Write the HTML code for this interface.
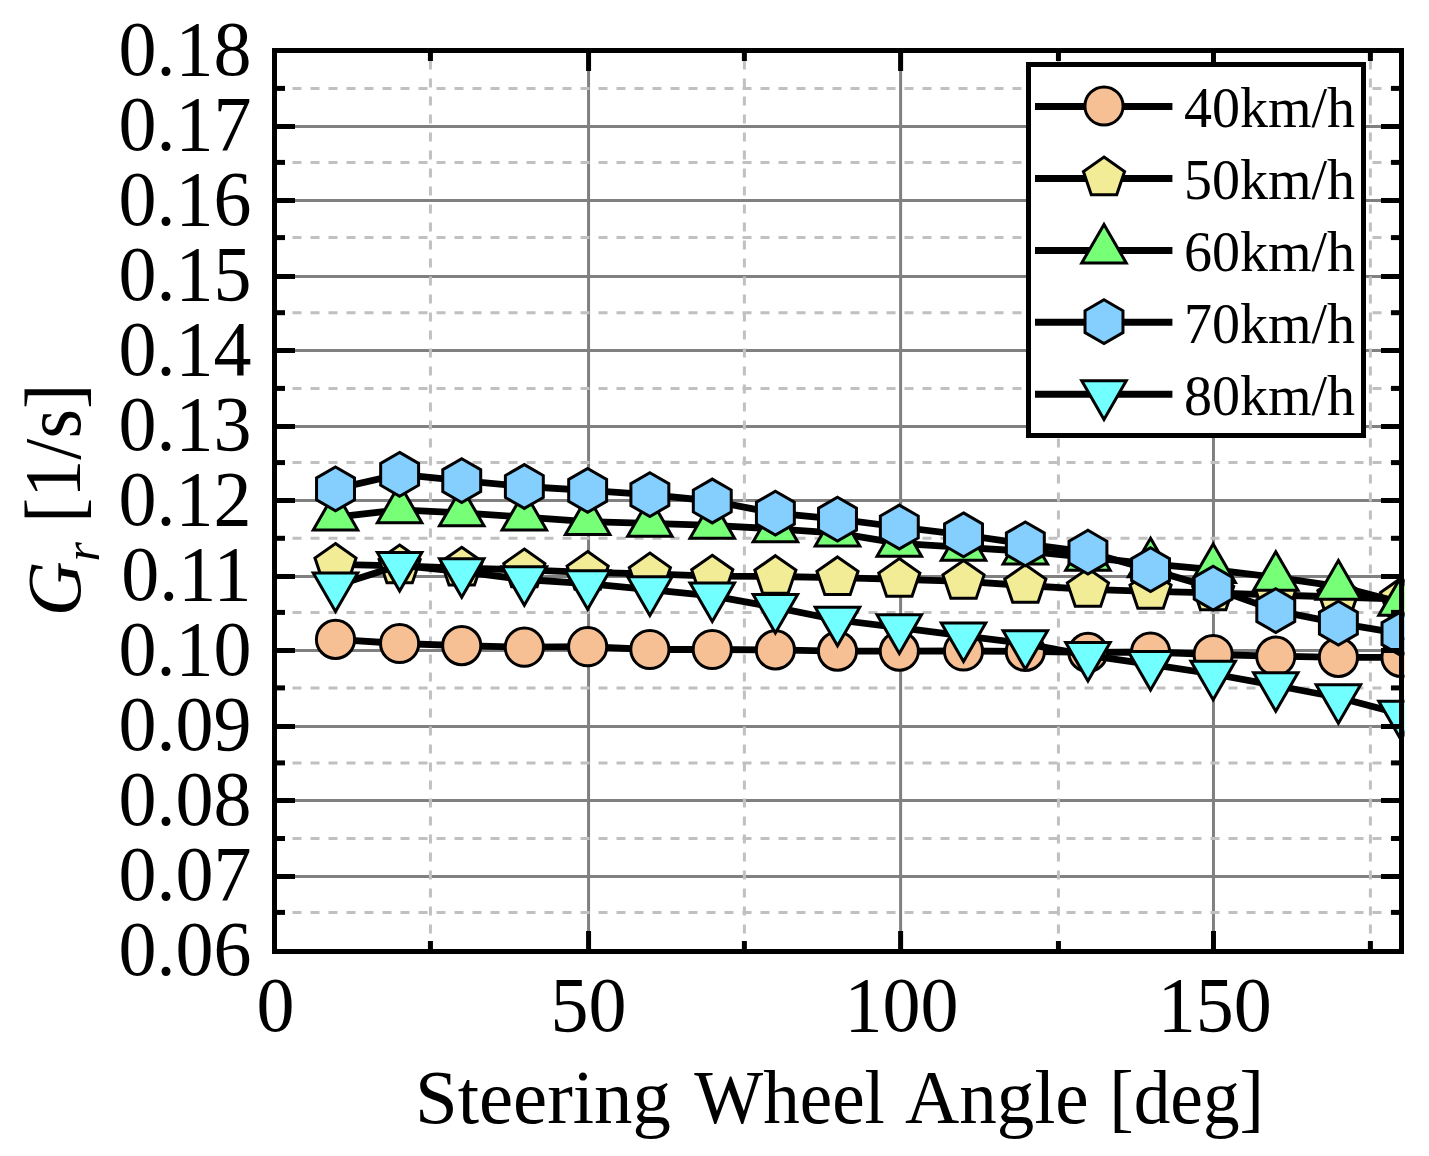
<!DOCTYPE html><html><head><meta charset="utf-8"><style>html,body{margin:0;padding:0;background:#fff;width:1429px;height:1156px;overflow:hidden}svg{display:block}text{font-family:"Liberation Serif",serif;fill:#000}</style></head><body><svg width="1429" height="1156" viewBox="0 0 1429 1156"><defs><clipPath id="pc"><rect x="272" y="48" width="1132.5" height="906"/></clipPath></defs><g><line x1="274.5" y1="876.50" x2="1401.5" y2="876.50" stroke="#808080" stroke-width="3.0"/><line x1="274.5" y1="800.50" x2="1401.5" y2="800.50" stroke="#808080" stroke-width="3.0"/><line x1="274.5" y1="726.50" x2="1401.5" y2="726.50" stroke="#808080" stroke-width="3.0"/><line x1="274.5" y1="650.50" x2="1401.5" y2="650.50" stroke="#808080" stroke-width="3.0"/><line x1="274.5" y1="576.50" x2="1401.5" y2="576.50" stroke="#808080" stroke-width="3.0"/><line x1="274.5" y1="500.50" x2="1401.5" y2="500.50" stroke="#808080" stroke-width="3.0"/><line x1="274.5" y1="426.50" x2="1401.5" y2="426.50" stroke="#808080" stroke-width="3.0"/><line x1="274.5" y1="350.50" x2="1401.5" y2="350.50" stroke="#808080" stroke-width="3.0"/><line x1="274.5" y1="276.50" x2="1401.5" y2="276.50" stroke="#808080" stroke-width="3.0"/><line x1="274.5" y1="200.50" x2="1401.5" y2="200.50" stroke="#808080" stroke-width="3.0"/><line x1="274.5" y1="126.50" x2="1401.5" y2="126.50" stroke="#808080" stroke-width="3.0"/><line x1="588.56" y1="50.5" x2="588.56" y2="951.5" stroke="#808080" stroke-width="3.0"/><line x1="900.61" y1="50.5" x2="900.61" y2="951.5" stroke="#808080" stroke-width="3.0"/><line x1="1213.47" y1="50.5" x2="1213.47" y2="951.5" stroke="#808080" stroke-width="3.0"/><line x1="274.5" y1="912.40" x2="1401.5" y2="912.40" stroke="#c0c0c0" stroke-width="3.0" stroke-dasharray="9 9"/><line x1="274.5" y1="838.50" x2="1401.5" y2="838.50" stroke="#c0c0c0" stroke-width="3.0" stroke-dasharray="9 9"/><line x1="274.5" y1="762.90" x2="1401.5" y2="762.90" stroke="#c0c0c0" stroke-width="3.0" stroke-dasharray="9 9"/><line x1="274.5" y1="687.90" x2="1401.5" y2="687.90" stroke="#c0c0c0" stroke-width="3.0" stroke-dasharray="9 9"/><line x1="274.5" y1="612.40" x2="1401.5" y2="612.40" stroke="#c0c0c0" stroke-width="3.0" stroke-dasharray="9 9"/><line x1="274.5" y1="538.30" x2="1401.5" y2="538.30" stroke="#c0c0c0" stroke-width="3.0" stroke-dasharray="9 9"/><line x1="274.5" y1="462.60" x2="1401.5" y2="462.60" stroke="#c0c0c0" stroke-width="3.0" stroke-dasharray="9 9"/><line x1="274.5" y1="388.40" x2="1401.5" y2="388.40" stroke="#c0c0c0" stroke-width="3.0" stroke-dasharray="9 9"/><line x1="274.5" y1="312.70" x2="1401.5" y2="312.70" stroke="#c0c0c0" stroke-width="3.0" stroke-dasharray="9 9"/><line x1="274.5" y1="237.60" x2="1401.5" y2="237.60" stroke="#c0c0c0" stroke-width="3.0" stroke-dasharray="9 9"/><line x1="274.5" y1="162.40" x2="1401.5" y2="162.40" stroke="#c0c0c0" stroke-width="3.0" stroke-dasharray="9 9"/><line x1="274.5" y1="88.40" x2="1401.5" y2="88.40" stroke="#c0c0c0" stroke-width="3.0" stroke-dasharray="9 9"/><line x1="430.43" y1="951.5" x2="430.43" y2="50.5" stroke="#c0c0c0" stroke-width="3.0" stroke-dasharray="9 9"/><line x1="744.38" y1="951.5" x2="744.38" y2="50.5" stroke="#c0c0c0" stroke-width="3.0" stroke-dasharray="9 9"/><line x1="1058.44" y1="951.5" x2="1058.44" y2="50.5" stroke="#c0c0c0" stroke-width="3.0" stroke-dasharray="9 9"/><line x1="1370.39" y1="951.5" x2="1370.39" y2="50.5" stroke="#c0c0c0" stroke-width="3.0" stroke-dasharray="9 9"/></g><g clip-path="url(#pc)"><polyline points="335.51,639.40 399.62,643.50 461.73,645.60 524.34,647.20 587.66,646.70 649.87,649.50 712.28,649.50 775.39,649.90 837.50,651.10 899.31,651.10 963.52,651.00 1025.33,651.40 1087.94,652.40 1150.56,652.00 1213.17,654.50 1275.78,656.20 1338.39,657.40 1401.00,657.40" fill="none" stroke="#000" stroke-width="6.8" stroke-linejoin="round"/><circle cx="335.51" cy="639.40" r="19.1" fill="#F7C094" stroke="#000" stroke-width="3"/><circle cx="399.62" cy="643.50" r="19.1" fill="#F7C094" stroke="#000" stroke-width="3"/><circle cx="461.73" cy="645.60" r="19.1" fill="#F7C094" stroke="#000" stroke-width="3"/><circle cx="524.34" cy="647.20" r="19.1" fill="#F7C094" stroke="#000" stroke-width="3"/><circle cx="587.66" cy="646.70" r="19.1" fill="#F7C094" stroke="#000" stroke-width="3"/><circle cx="649.87" cy="649.50" r="19.1" fill="#F7C094" stroke="#000" stroke-width="3"/><circle cx="712.28" cy="649.50" r="19.1" fill="#F7C094" stroke="#000" stroke-width="3"/><circle cx="775.39" cy="649.90" r="19.1" fill="#F7C094" stroke="#000" stroke-width="3"/><circle cx="837.50" cy="651.10" r="19.1" fill="#F7C094" stroke="#000" stroke-width="3"/><circle cx="899.31" cy="651.10" r="19.1" fill="#F7C094" stroke="#000" stroke-width="3"/><circle cx="963.52" cy="651.00" r="19.1" fill="#F7C094" stroke="#000" stroke-width="3"/><circle cx="1025.33" cy="651.40" r="19.1" fill="#F7C094" stroke="#000" stroke-width="3"/><circle cx="1087.94" cy="652.40" r="19.1" fill="#F7C094" stroke="#000" stroke-width="3"/><circle cx="1150.56" cy="652.00" r="19.1" fill="#F7C094" stroke="#000" stroke-width="3"/><circle cx="1213.17" cy="654.50" r="19.1" fill="#F7C094" stroke="#000" stroke-width="3"/><circle cx="1275.78" cy="656.20" r="19.1" fill="#F7C094" stroke="#000" stroke-width="3"/><circle cx="1338.39" cy="657.40" r="19.1" fill="#F7C094" stroke="#000" stroke-width="3"/><circle cx="1401.00" cy="657.40" r="19.1" fill="#F7C094" stroke="#000" stroke-width="3"/><polyline points="335.51,564.40 399.62,565.80 461.73,568.10 524.34,569.90 587.66,572.40 649.87,573.90 712.28,576.10 775.39,576.50 837.50,577.70 899.31,579.40 963.52,581.30 1025.33,585.50 1087.94,589.30 1150.56,591.40 1213.17,592.80 1275.78,595.00 1338.39,597.00 1401.00,599.00" fill="none" stroke="#000" stroke-width="6.8" stroke-linejoin="round"/><polygon points="335.51,543.60 356.08,557.97 348.23,581.23 322.80,581.23 314.94,557.97" fill="#F2EC96" stroke="#000" stroke-width="3" stroke-linejoin="miter"/><polygon points="399.62,545.00 420.20,559.37 412.34,582.63 386.91,582.63 379.05,559.37" fill="#F2EC96" stroke="#000" stroke-width="3" stroke-linejoin="miter"/><polygon points="461.73,547.30 482.31,561.67 474.45,584.93 449.02,584.93 441.16,561.67" fill="#F2EC96" stroke="#000" stroke-width="3" stroke-linejoin="miter"/><polygon points="524.34,549.10 544.92,563.47 537.06,586.73 511.63,586.73 503.77,563.47" fill="#F2EC96" stroke="#000" stroke-width="3" stroke-linejoin="miter"/><polygon points="587.66,551.60 608.23,565.97 600.37,589.23 574.94,589.23 567.08,565.97" fill="#F2EC96" stroke="#000" stroke-width="3" stroke-linejoin="miter"/><polygon points="649.87,553.10 670.44,567.47 662.58,590.73 637.15,590.73 629.29,567.47" fill="#F2EC96" stroke="#000" stroke-width="3" stroke-linejoin="miter"/><polygon points="712.28,555.30 732.85,569.67 724.99,592.93 699.56,592.93 691.70,569.67" fill="#F2EC96" stroke="#000" stroke-width="3" stroke-linejoin="miter"/><polygon points="775.39,555.70 795.96,570.07 788.10,593.33 762.67,593.33 754.82,570.07" fill="#F2EC96" stroke="#000" stroke-width="3" stroke-linejoin="miter"/><polygon points="837.50,556.90 858.07,571.27 850.21,594.53 824.79,594.53 816.93,571.27" fill="#F2EC96" stroke="#000" stroke-width="3" stroke-linejoin="miter"/><polygon points="899.31,558.60 919.88,572.97 912.03,596.23 886.60,596.23 878.74,572.97" fill="#F2EC96" stroke="#000" stroke-width="3" stroke-linejoin="miter"/><polygon points="963.52,560.50 984.10,574.87 976.24,598.13 950.81,598.13 942.95,574.87" fill="#F2EC96" stroke="#000" stroke-width="3" stroke-linejoin="miter"/><polygon points="1025.33,564.70 1045.91,579.07 1038.05,602.33 1012.62,602.33 1004.76,579.07" fill="#F2EC96" stroke="#000" stroke-width="3" stroke-linejoin="miter"/><polygon points="1087.94,568.50 1108.52,582.87 1100.66,606.13 1075.23,606.13 1067.37,582.87" fill="#F2EC96" stroke="#000" stroke-width="3" stroke-linejoin="miter"/><polygon points="1150.56,570.60 1171.13,584.97 1163.27,608.23 1137.84,608.23 1129.98,584.97" fill="#F2EC96" stroke="#000" stroke-width="3" stroke-linejoin="miter"/><polygon points="1213.17,572.00 1233.74,586.37 1225.88,609.63 1200.45,609.63 1192.59,586.37" fill="#F2EC96" stroke="#000" stroke-width="3" stroke-linejoin="miter"/><polygon points="1275.78,574.20 1296.35,588.57 1288.49,611.83 1263.06,611.83 1255.20,588.57" fill="#F2EC96" stroke="#000" stroke-width="3" stroke-linejoin="miter"/><polygon points="1338.39,576.20 1358.96,590.57 1351.10,613.83 1325.67,613.83 1317.82,590.57" fill="#F2EC96" stroke="#000" stroke-width="3" stroke-linejoin="miter"/><polygon points="1401.00,578.20 1421.57,592.57 1413.71,615.83 1388.29,615.83 1380.43,592.57" fill="#F2EC96" stroke="#000" stroke-width="3" stroke-linejoin="miter"/><polyline points="335.51,517.10 399.62,509.80 461.73,512.90 524.34,517.10 587.66,521.70 649.87,523.30 712.28,525.30 775.39,528.90 837.50,533.20 899.31,543.30 963.52,547.40 1025.33,551.20 1087.94,557.30 1150.56,563.90 1213.17,569.60 1275.78,577.40 1338.39,586.30 1401.00,602.50" fill="none" stroke="#000" stroke-width="6.8" stroke-linejoin="round"/><polygon points="335.51,491.40 357.77,529.95 313.25,529.95" fill="#78FF78" stroke="#000" stroke-width="3" stroke-linejoin="miter" stroke-miterlimit="2.1"/><polygon points="399.62,484.10 421.88,522.65 377.37,522.65" fill="#78FF78" stroke="#000" stroke-width="3" stroke-linejoin="miter" stroke-miterlimit="2.1"/><polygon points="461.73,487.20 483.99,525.75 439.48,525.75" fill="#78FF78" stroke="#000" stroke-width="3" stroke-linejoin="miter" stroke-miterlimit="2.1"/><polygon points="524.34,491.40 546.60,529.95 502.09,529.95" fill="#78FF78" stroke="#000" stroke-width="3" stroke-linejoin="miter" stroke-miterlimit="2.1"/><polygon points="587.66,496.00 609.91,534.55 565.40,534.55" fill="#78FF78" stroke="#000" stroke-width="3" stroke-linejoin="miter" stroke-miterlimit="2.1"/><polygon points="649.87,497.60 672.12,536.15 627.61,536.15" fill="#78FF78" stroke="#000" stroke-width="3" stroke-linejoin="miter" stroke-miterlimit="2.1"/><polygon points="712.28,499.60 734.53,538.15 690.02,538.15" fill="#78FF78" stroke="#000" stroke-width="3" stroke-linejoin="miter" stroke-miterlimit="2.1"/><polygon points="775.39,503.20 797.65,541.75 753.13,541.75" fill="#78FF78" stroke="#000" stroke-width="3" stroke-linejoin="miter" stroke-miterlimit="2.1"/><polygon points="837.50,507.50 859.76,546.05 815.24,546.05" fill="#78FF78" stroke="#000" stroke-width="3" stroke-linejoin="miter" stroke-miterlimit="2.1"/><polygon points="899.31,517.60 921.57,556.15 877.05,556.15" fill="#78FF78" stroke="#000" stroke-width="3" stroke-linejoin="miter" stroke-miterlimit="2.1"/><polygon points="963.52,521.70 985.78,560.25 941.27,560.25" fill="#78FF78" stroke="#000" stroke-width="3" stroke-linejoin="miter" stroke-miterlimit="2.1"/><polygon points="1025.33,525.50 1047.59,564.05 1003.08,564.05" fill="#78FF78" stroke="#000" stroke-width="3" stroke-linejoin="miter" stroke-miterlimit="2.1"/><polygon points="1087.94,531.60 1110.20,570.15 1065.69,570.15" fill="#78FF78" stroke="#000" stroke-width="3" stroke-linejoin="miter" stroke-miterlimit="2.1"/><polygon points="1150.56,538.20 1172.81,576.75 1128.30,576.75" fill="#78FF78" stroke="#000" stroke-width="3" stroke-linejoin="miter" stroke-miterlimit="2.1"/><polygon points="1213.17,543.90 1235.42,582.45 1190.91,582.45" fill="#78FF78" stroke="#000" stroke-width="3" stroke-linejoin="miter" stroke-miterlimit="2.1"/><polygon points="1275.78,551.70 1298.03,590.25 1253.52,590.25" fill="#78FF78" stroke="#000" stroke-width="3" stroke-linejoin="miter" stroke-miterlimit="2.1"/><polygon points="1338.39,560.60 1360.65,599.15 1316.13,599.15" fill="#78FF78" stroke="#000" stroke-width="3" stroke-linejoin="miter" stroke-miterlimit="2.1"/><polygon points="1401.00,576.80 1423.26,615.35 1378.74,615.35" fill="#78FF78" stroke="#000" stroke-width="3" stroke-linejoin="miter" stroke-miterlimit="2.1"/><polyline points="335.51,488.90 399.62,474.30 461.73,480.60 524.34,486.50 587.66,490.40 649.87,494.60 712.28,501.00 775.39,513.10 837.50,519.10 899.31,527.00 963.52,534.80 1025.33,543.90 1087.94,552.20 1150.56,569.60 1213.17,588.10 1275.78,610.60 1338.39,623.10 1401.00,633.60" fill="none" stroke="#000" stroke-width="6.8" stroke-linejoin="round"/><polygon points="335.51,467.00 354.48,477.95 354.48,499.85 335.51,510.80 316.55,499.85 316.55,477.95" fill="#84CFFE" stroke="#000" stroke-width="3" stroke-linejoin="miter"/><polygon points="399.62,452.40 418.59,463.35 418.59,485.25 399.62,496.20 380.66,485.25 380.66,463.35" fill="#84CFFE" stroke="#000" stroke-width="3" stroke-linejoin="miter"/><polygon points="461.73,458.70 480.70,469.65 480.70,491.55 461.73,502.50 442.77,491.55 442.77,469.65" fill="#84CFFE" stroke="#000" stroke-width="3" stroke-linejoin="miter"/><polygon points="524.34,464.60 543.31,475.55 543.31,497.45 524.34,508.40 505.38,497.45 505.38,475.55" fill="#84CFFE" stroke="#000" stroke-width="3" stroke-linejoin="miter"/><polygon points="587.66,468.50 606.62,479.45 606.62,501.35 587.66,512.30 568.69,501.35 568.69,479.45" fill="#84CFFE" stroke="#000" stroke-width="3" stroke-linejoin="miter"/><polygon points="649.87,472.70 668.83,483.65 668.83,505.55 649.87,516.50 630.90,505.55 630.90,483.65" fill="#84CFFE" stroke="#000" stroke-width="3" stroke-linejoin="miter"/><polygon points="712.28,479.10 731.24,490.05 731.24,511.95 712.28,522.90 693.31,511.95 693.31,490.05" fill="#84CFFE" stroke="#000" stroke-width="3" stroke-linejoin="miter"/><polygon points="775.39,491.20 794.35,502.15 794.35,524.05 775.39,535.00 756.42,524.05 756.42,502.15" fill="#84CFFE" stroke="#000" stroke-width="3" stroke-linejoin="miter"/><polygon points="837.50,497.20 856.47,508.15 856.47,530.05 837.50,541.00 818.53,530.05 818.53,508.15" fill="#84CFFE" stroke="#000" stroke-width="3" stroke-linejoin="miter"/><polygon points="899.31,505.10 918.28,516.05 918.28,537.95 899.31,548.90 880.35,537.95 880.35,516.05" fill="#84CFFE" stroke="#000" stroke-width="3" stroke-linejoin="miter"/><polygon points="963.52,512.90 982.49,523.85 982.49,545.75 963.52,556.70 944.56,545.75 944.56,523.85" fill="#84CFFE" stroke="#000" stroke-width="3" stroke-linejoin="miter"/><polygon points="1025.33,522.00 1044.30,532.95 1044.30,554.85 1025.33,565.80 1006.37,554.85 1006.37,532.95" fill="#84CFFE" stroke="#000" stroke-width="3" stroke-linejoin="miter"/><polygon points="1087.94,530.30 1106.91,541.25 1106.91,563.15 1087.94,574.10 1068.98,563.15 1068.98,541.25" fill="#84CFFE" stroke="#000" stroke-width="3" stroke-linejoin="miter"/><polygon points="1150.56,547.70 1169.52,558.65 1169.52,580.55 1150.56,591.50 1131.59,580.55 1131.59,558.65" fill="#84CFFE" stroke="#000" stroke-width="3" stroke-linejoin="miter"/><polygon points="1213.17,566.20 1232.13,577.15 1232.13,599.05 1213.17,610.00 1194.20,599.05 1194.20,577.15" fill="#84CFFE" stroke="#000" stroke-width="3" stroke-linejoin="miter"/><polygon points="1275.78,588.70 1294.74,599.65 1294.74,621.55 1275.78,632.50 1256.81,621.55 1256.81,599.65" fill="#84CFFE" stroke="#000" stroke-width="3" stroke-linejoin="miter"/><polygon points="1338.39,601.20 1357.35,612.15 1357.35,634.05 1338.39,645.00 1319.42,634.05 1319.42,612.15" fill="#84CFFE" stroke="#000" stroke-width="3" stroke-linejoin="miter"/><polygon points="1401.00,611.70 1419.97,622.65 1419.97,644.55 1401.00,655.50 1382.03,644.55 1382.03,622.65" fill="#84CFFE" stroke="#000" stroke-width="3" stroke-linejoin="miter"/><polyline points="335.51,585.75 399.62,565.35 461.73,571.65 524.34,579.50 587.66,583.60 649.87,589.70 712.28,595.90 775.39,607.40 837.50,620.00 899.31,627.70 963.52,635.80 1025.33,643.60 1087.94,655.40 1150.56,664.30 1213.17,674.00 1275.78,685.50 1338.39,697.50 1401.00,714.00" fill="none" stroke="#000" stroke-width="6.8" stroke-linejoin="round"/><polygon points="335.51,611.45 313.25,572.90 357.77,572.90" fill="#72FFFF" stroke="#000" stroke-width="3" stroke-linejoin="miter" stroke-miterlimit="2.1"/><polygon points="399.62,591.05 377.37,552.50 421.88,552.50" fill="#72FFFF" stroke="#000" stroke-width="3" stroke-linejoin="miter" stroke-miterlimit="2.1"/><polygon points="461.73,597.35 439.48,558.80 483.99,558.80" fill="#72FFFF" stroke="#000" stroke-width="3" stroke-linejoin="miter" stroke-miterlimit="2.1"/><polygon points="524.34,605.20 502.09,566.65 546.60,566.65" fill="#72FFFF" stroke="#000" stroke-width="3" stroke-linejoin="miter" stroke-miterlimit="2.1"/><polygon points="587.66,609.30 565.40,570.75 609.91,570.75" fill="#72FFFF" stroke="#000" stroke-width="3" stroke-linejoin="miter" stroke-miterlimit="2.1"/><polygon points="649.87,615.40 627.61,576.85 672.12,576.85" fill="#72FFFF" stroke="#000" stroke-width="3" stroke-linejoin="miter" stroke-miterlimit="2.1"/><polygon points="712.28,621.60 690.02,583.05 734.53,583.05" fill="#72FFFF" stroke="#000" stroke-width="3" stroke-linejoin="miter" stroke-miterlimit="2.1"/><polygon points="775.39,633.10 753.13,594.55 797.65,594.55" fill="#72FFFF" stroke="#000" stroke-width="3" stroke-linejoin="miter" stroke-miterlimit="2.1"/><polygon points="837.50,645.70 815.24,607.15 859.76,607.15" fill="#72FFFF" stroke="#000" stroke-width="3" stroke-linejoin="miter" stroke-miterlimit="2.1"/><polygon points="899.31,653.40 877.05,614.85 921.57,614.85" fill="#72FFFF" stroke="#000" stroke-width="3" stroke-linejoin="miter" stroke-miterlimit="2.1"/><polygon points="963.52,661.50 941.27,622.95 985.78,622.95" fill="#72FFFF" stroke="#000" stroke-width="3" stroke-linejoin="miter" stroke-miterlimit="2.1"/><polygon points="1025.33,669.30 1003.08,630.75 1047.59,630.75" fill="#72FFFF" stroke="#000" stroke-width="3" stroke-linejoin="miter" stroke-miterlimit="2.1"/><polygon points="1087.94,681.10 1065.69,642.55 1110.20,642.55" fill="#72FFFF" stroke="#000" stroke-width="3" stroke-linejoin="miter" stroke-miterlimit="2.1"/><polygon points="1150.56,690.00 1128.30,651.45 1172.81,651.45" fill="#72FFFF" stroke="#000" stroke-width="3" stroke-linejoin="miter" stroke-miterlimit="2.1"/><polygon points="1213.17,699.70 1190.91,661.15 1235.42,661.15" fill="#72FFFF" stroke="#000" stroke-width="3" stroke-linejoin="miter" stroke-miterlimit="2.1"/><polygon points="1275.78,711.20 1253.52,672.65 1298.03,672.65" fill="#72FFFF" stroke="#000" stroke-width="3" stroke-linejoin="miter" stroke-miterlimit="2.1"/><polygon points="1338.39,723.20 1316.13,684.65 1360.65,684.65" fill="#72FFFF" stroke="#000" stroke-width="3" stroke-linejoin="miter" stroke-miterlimit="2.1"/><polygon points="1401.00,739.70 1378.74,701.15 1423.26,701.15" fill="#72FFFF" stroke="#000" stroke-width="3" stroke-linejoin="miter" stroke-miterlimit="2.1"/></g><g><rect x="274.5" y="50.5" width="1127.0" height="901.0" fill="none" stroke="#000" stroke-width="5"/><line x1="274.5" y1="876.50" x2="295.0" y2="876.50" stroke="#000" stroke-width="5"/><line x1="1401.5" y1="876.50" x2="1381.0" y2="876.50" stroke="#000" stroke-width="5"/><line x1="274.5" y1="800.50" x2="295.0" y2="800.50" stroke="#000" stroke-width="5"/><line x1="1401.5" y1="800.50" x2="1381.0" y2="800.50" stroke="#000" stroke-width="5"/><line x1="274.5" y1="726.50" x2="295.0" y2="726.50" stroke="#000" stroke-width="5"/><line x1="1401.5" y1="726.50" x2="1381.0" y2="726.50" stroke="#000" stroke-width="5"/><line x1="274.5" y1="650.50" x2="295.0" y2="650.50" stroke="#000" stroke-width="5"/><line x1="1401.5" y1="650.50" x2="1381.0" y2="650.50" stroke="#000" stroke-width="5"/><line x1="274.5" y1="576.50" x2="295.0" y2="576.50" stroke="#000" stroke-width="5"/><line x1="1401.5" y1="576.50" x2="1381.0" y2="576.50" stroke="#000" stroke-width="5"/><line x1="274.5" y1="500.50" x2="295.0" y2="500.50" stroke="#000" stroke-width="5"/><line x1="1401.5" y1="500.50" x2="1381.0" y2="500.50" stroke="#000" stroke-width="5"/><line x1="274.5" y1="426.50" x2="295.0" y2="426.50" stroke="#000" stroke-width="5"/><line x1="1401.5" y1="426.50" x2="1381.0" y2="426.50" stroke="#000" stroke-width="5"/><line x1="274.5" y1="350.50" x2="295.0" y2="350.50" stroke="#000" stroke-width="5"/><line x1="1401.5" y1="350.50" x2="1381.0" y2="350.50" stroke="#000" stroke-width="5"/><line x1="274.5" y1="276.50" x2="295.0" y2="276.50" stroke="#000" stroke-width="5"/><line x1="1401.5" y1="276.50" x2="1381.0" y2="276.50" stroke="#000" stroke-width="5"/><line x1="274.5" y1="200.50" x2="295.0" y2="200.50" stroke="#000" stroke-width="5"/><line x1="1401.5" y1="200.50" x2="1381.0" y2="200.50" stroke="#000" stroke-width="5"/><line x1="274.5" y1="126.50" x2="295.0" y2="126.50" stroke="#000" stroke-width="5"/><line x1="1401.5" y1="126.50" x2="1381.0" y2="126.50" stroke="#000" stroke-width="5"/><line x1="274.5" y1="912.40" x2="285.0" y2="912.40" stroke="#000" stroke-width="5"/><line x1="1401.5" y1="912.40" x2="1391.0" y2="912.40" stroke="#000" stroke-width="5"/><line x1="274.5" y1="838.50" x2="285.0" y2="838.50" stroke="#000" stroke-width="5"/><line x1="1401.5" y1="838.50" x2="1391.0" y2="838.50" stroke="#000" stroke-width="5"/><line x1="274.5" y1="762.90" x2="285.0" y2="762.90" stroke="#000" stroke-width="5"/><line x1="1401.5" y1="762.90" x2="1391.0" y2="762.90" stroke="#000" stroke-width="5"/><line x1="274.5" y1="687.90" x2="285.0" y2="687.90" stroke="#000" stroke-width="5"/><line x1="1401.5" y1="687.90" x2="1391.0" y2="687.90" stroke="#000" stroke-width="5"/><line x1="274.5" y1="612.40" x2="285.0" y2="612.40" stroke="#000" stroke-width="5"/><line x1="1401.5" y1="612.40" x2="1391.0" y2="612.40" stroke="#000" stroke-width="5"/><line x1="274.5" y1="538.30" x2="285.0" y2="538.30" stroke="#000" stroke-width="5"/><line x1="1401.5" y1="538.30" x2="1391.0" y2="538.30" stroke="#000" stroke-width="5"/><line x1="274.5" y1="462.60" x2="285.0" y2="462.60" stroke="#000" stroke-width="5"/><line x1="1401.5" y1="462.60" x2="1391.0" y2="462.60" stroke="#000" stroke-width="5"/><line x1="274.5" y1="388.40" x2="285.0" y2="388.40" stroke="#000" stroke-width="5"/><line x1="1401.5" y1="388.40" x2="1391.0" y2="388.40" stroke="#000" stroke-width="5"/><line x1="274.5" y1="312.70" x2="285.0" y2="312.70" stroke="#000" stroke-width="5"/><line x1="1401.5" y1="312.70" x2="1391.0" y2="312.70" stroke="#000" stroke-width="5"/><line x1="274.5" y1="237.60" x2="285.0" y2="237.60" stroke="#000" stroke-width="5"/><line x1="1401.5" y1="237.60" x2="1391.0" y2="237.60" stroke="#000" stroke-width="5"/><line x1="274.5" y1="162.40" x2="285.0" y2="162.40" stroke="#000" stroke-width="5"/><line x1="1401.5" y1="162.40" x2="1391.0" y2="162.40" stroke="#000" stroke-width="5"/><line x1="274.5" y1="88.40" x2="285.0" y2="88.40" stroke="#000" stroke-width="5"/><line x1="1401.5" y1="88.40" x2="1391.0" y2="88.40" stroke="#000" stroke-width="5"/><line x1="588.56" y1="951.5" x2="588.56" y2="931.0" stroke="#000" stroke-width="5"/><line x1="588.56" y1="50.5" x2="588.56" y2="71.0" stroke="#000" stroke-width="5"/><line x1="900.61" y1="951.5" x2="900.61" y2="931.0" stroke="#000" stroke-width="5"/><line x1="900.61" y1="50.5" x2="900.61" y2="71.0" stroke="#000" stroke-width="5"/><line x1="1213.47" y1="951.5" x2="1213.47" y2="931.0" stroke="#000" stroke-width="5"/><line x1="1213.47" y1="50.5" x2="1213.47" y2="71.0" stroke="#000" stroke-width="5"/><line x1="430.43" y1="951.5" x2="430.43" y2="941.0" stroke="#000" stroke-width="5"/><line x1="430.43" y1="50.5" x2="430.43" y2="61.0" stroke="#000" stroke-width="5"/><line x1="744.38" y1="951.5" x2="744.38" y2="941.0" stroke="#000" stroke-width="5"/><line x1="744.38" y1="50.5" x2="744.38" y2="61.0" stroke="#000" stroke-width="5"/><line x1="1058.44" y1="951.5" x2="1058.44" y2="941.0" stroke="#000" stroke-width="5"/><line x1="1058.44" y1="50.5" x2="1058.44" y2="61.0" stroke="#000" stroke-width="5"/><line x1="1370.39" y1="951.5" x2="1370.39" y2="941.0" stroke="#000" stroke-width="5"/><line x1="1370.39" y1="50.5" x2="1370.39" y2="61.0" stroke="#000" stroke-width="5"/></g><g><rect x="1028.5" y="64.5" width="335" height="371" fill="#fff" stroke="#000" stroke-width="5"/><line x1="1035" y1="106.5" x2="1172.4" y2="106.5" stroke="#000" stroke-width="7"/><circle cx="1104.00" cy="106.00" r="19.1" fill="#F7C094" stroke="#000" stroke-width="3"/><text transform="translate(1184,127.0) scale(1,1.03)" font-size="56">40km/h</text><line x1="1035" y1="178.4" x2="1172.4" y2="178.4" stroke="#000" stroke-width="7"/><polygon points="1104.00,157.10 1124.57,171.47 1116.71,194.73 1091.29,194.73 1083.43,171.47" fill="#F2EC96" stroke="#000" stroke-width="3" stroke-linejoin="miter"/><text transform="translate(1184,198.9) scale(1,1.03)" font-size="56">50km/h</text><line x1="1035" y1="250.6" x2="1172.4" y2="250.6" stroke="#000" stroke-width="7"/><polygon points="1104.00,224.40 1126.26,262.95 1081.74,262.95" fill="#78FF78" stroke="#000" stroke-width="3" stroke-linejoin="miter" stroke-miterlimit="2.1"/><text transform="translate(1184,271.1) scale(1,1.03)" font-size="56">60km/h</text><line x1="1035" y1="322.2" x2="1172.4" y2="322.2" stroke="#000" stroke-width="7"/><polygon points="1104.00,299.80 1122.97,310.75 1122.97,332.65 1104.00,343.60 1085.03,332.65 1085.03,310.75" fill="#84CFFE" stroke="#000" stroke-width="3" stroke-linejoin="miter"/><text transform="translate(1184,342.7) scale(1,1.03)" font-size="56">70km/h</text><line x1="1035" y1="394.2" x2="1172.4" y2="394.2" stroke="#000" stroke-width="7"/><polygon points="1104.00,419.40 1081.74,380.85 1126.26,380.85" fill="#72FFFF" stroke="#000" stroke-width="3" stroke-linejoin="miter" stroke-miterlimit="2.1"/><text transform="translate(1184,414.7) scale(1,1.03)" font-size="56">80km/h</text></g><g><text transform="translate(251.5,975.1) scale(1,1.03)" font-size="76" text-anchor="end">0.06</text><text transform="translate(251.5,900.1) scale(1,1.03)" font-size="76" text-anchor="end">0.07</text><text transform="translate(251.5,825.1) scale(1,1.03)" font-size="76" text-anchor="end">0.08</text><text transform="translate(251.5,750.1) scale(1,1.03)" font-size="76" text-anchor="end">0.09</text><text transform="translate(251.5,675.1) scale(1,1.03)" font-size="76" text-anchor="end">0.10</text><text transform="translate(251.5,600.1) scale(1,1.03)" font-size="76" text-anchor="end">0.11</text><text transform="translate(251.5,525.1) scale(1,1.03)" font-size="76" text-anchor="end">0.12</text><text transform="translate(251.5,450.1) scale(1,1.03)" font-size="76" text-anchor="end">0.13</text><text transform="translate(251.5,375.1) scale(1,1.03)" font-size="76" text-anchor="end">0.14</text><text transform="translate(251.5,300.1) scale(1,1.03)" font-size="76" text-anchor="end">0.15</text><text transform="translate(251.5,225.1) scale(1,1.03)" font-size="76" text-anchor="end">0.16</text><text transform="translate(251.5,150.1) scale(1,1.03)" font-size="76" text-anchor="end">0.17</text><text transform="translate(251.5,75.1) scale(1,1.03)" font-size="76" text-anchor="end">0.18</text><text transform="translate(275.5,1031) scale(1,1.03)" font-size="76" text-anchor="middle">0</text><text transform="translate(588.6,1031) scale(1,1.03)" font-size="76" text-anchor="middle">50</text><text transform="translate(901.6,1031) scale(1,1.03)" font-size="76" text-anchor="middle">100</text><text transform="translate(1214.7,1031) scale(1,1.03)" font-size="76" text-anchor="middle">150</text><text transform="translate(414.9,1123) scale(1.011,1)" font-size="76">Steering</text><text transform="translate(694.3,1123) scale(0.961,1)" font-size="76">Wheel</text><text transform="translate(905.0,1123) scale(0.989,1)" font-size="76">Angle</text><text transform="translate(1109.2,1123) scale(0.966,1)" font-size="76">[deg]</text><g transform="translate(80,500) rotate(-90)"><text x="-116.34" y="0" font-size="76"><tspan font-style="italic">G</tspan><tspan font-style="italic" font-size="50" dy="19">r</tspan></text><text transform="translate(-22.98,0) scale(1,1.05)" font-size="76">[1/s]</text></g></g></svg></body></html>
